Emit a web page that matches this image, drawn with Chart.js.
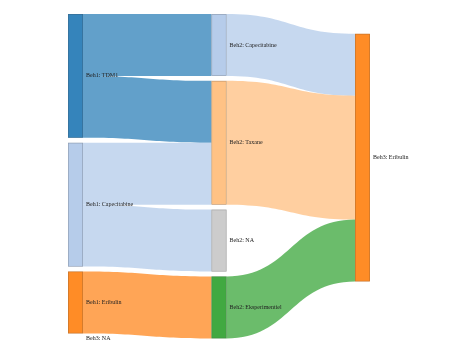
<!DOCTYPE html>
<html>
<head>
<meta charset="utf-8">
<script src="https://cdn.jsdelivr.net/npm/chart.js@4/dist/chart.umd.min.js"></script>
<style>
html,body{margin:0;padding:0;background:#fff;}
#wrap{width:474px;height:357px;}
</style>
</head>
<body>
<div id="wrap"><canvas id="c" width="474" height="357"></canvas></div>
<script>
// ---- data ----
const nodeLabels = ['Beh1: TDM1','Beh1: Capecitabine','Beh1: Eribulin','Beh3: NA',
                    'Beh2: Capecitabine','Beh2: Taxane','Beh2: NA','Beh2: Eksperimentiel',
                    'Beh3: Eribulin'];
const nodeColumns = [0,0,0,0,1,1,1,1,2];
const nodeColors = ['#1f77b4','#aec7e8','#ff7f0e','#1f77b4',
                    '#aec7e8','#ffbb78','#c7c7c7','#2ca02c',
                    '#ff7f0e'];
const linkSources = [0,0,1,1,2,4,5,7];
const linkTargets = [4,5,5,6,7,8,8,8];
const linkValues  = [1,1,1,1,1,1,2,1];

// ---- layout constants (in value units) ----
const nodeGap = 0.08;
const columnOffsets = [0,0,0.32];
const nodeWidthPx = 15;

function hexA(hex,a){
  const n=parseInt(hex.slice(1),16);
  return 'rgba('+((n>>16)&255)+','+((n>>8)&255)+','+(n&255)+','+a+')';
}

function layout(){
  const n=nodeLabels.length;
  const inV=new Array(n).fill(0), outV=new Array(n).fill(0);
  linkValues.forEach((v,i)=>{outV[linkSources[i]]+=v;inV[linkTargets[i]]+=v;});
  const val=inV.map((v,i)=>Math.max(v,outV[i]));
  const y0=new Array(n), y1=new Array(n);
  const cursor=columnOffsets.slice();
  for(let i=0;i<n;i++){
    const c=nodeColumns[i];
    y0[i]=cursor[c]; y1[i]=cursor[c]+val[i]; cursor[c]=y1[i]+nodeGap;
  }
  // link positions
  const outCur=y0.slice(), inCur=y0.slice();
  const order=linkValues.map((v,i)=>i);
  const links=[];
  // sources: order by target position
  const sOrder=order.slice().sort((a,b)=>linkSources[a]-linkSources[b]||y0[linkTargets[a]]-y0[linkTargets[b]]);
  const sPos={};
  sOrder.forEach(i=>{sPos[i]=outCur[linkSources[i]]; outCur[linkSources[i]]+=linkValues[i];});
  const tOrder=order.slice().sort((a,b)=>linkTargets[a]-linkTargets[b]||y0[linkSources[a]]-y0[linkSources[b]]);
  const tPos={};
  tOrder.forEach(i=>{tPos[i]=inCur[linkTargets[i]]; inCur[linkTargets[i]]+=linkValues[i];});
  order.forEach(i=>links.push({s:linkSources[i],t:linkTargets[i],v:linkValues[i],sy:sPos[i],ty:tPos[i]}));
  return {y0,y1,links};
}

const sankeyPlugin={
  id:'sankeyDraw',
  afterDatasetsDraw(chart){
    const ctx=chart.ctx, xs=chart.scales.x, ys=chart.scales.y;
    const L=layout();
    ctx.save();
    // links
    L.links.forEach(l=>{
      const x0=xs.getPixelForValue(nodeColumns[l.s])+nodeWidthPx;
      const x1=xs.getPixelForValue(nodeColumns[l.t]);
      const xm=(x0+x1)/2;
      const a0=ys.getPixelForValue(l.sy), a1=ys.getPixelForValue(l.sy+l.v);
      const b0=ys.getPixelForValue(l.ty), b1=ys.getPixelForValue(l.ty+l.v);
      ctx.beginPath();
      ctx.moveTo(x0,a0);
      ctx.bezierCurveTo(xm,a0,xm,b0,x1,b0);
      ctx.lineTo(x1,b1);
      ctx.bezierCurveTo(xm,b1,xm,a1,x0,a1);
      ctx.closePath();
      ctx.fillStyle=hexA(nodeColors[l.s],0.7);
      ctx.fill();
    });
    // nodes
    nodeLabels.forEach((lab,i)=>{
      const x=xs.getPixelForValue(nodeColumns[i]);
      const t=ys.getPixelForValue(L.y0[i]), b=ys.getPixelForValue(L.y1[i]);
      if(b-t>0.5){
        ctx.fillStyle=hexA(nodeColors[i],0.9);
        ctx.fillRect(x,t,nodeWidthPx,b-t);
        ctx.strokeStyle='rgba(60,60,60,0.35)';
        ctx.lineWidth=0.6;
        ctx.strokeRect(x+0.3,t+0.3,nodeWidthPx-0.6,b-t-0.6);
      }
    });
    // labels
    ctx.font='6px "Liberation Serif", serif';
    ctx.fillStyle='#222';
    ctx.textBaseline='middle';
    ctx.textAlign='left';
    nodeLabels.forEach((lab,i)=>{
      const x=xs.getPixelForValue(nodeColumns[i])+nodeWidthPx+3;
      const t=ys.getPixelForValue(L.y0[i]), b=ys.getPixelForValue(L.y1[i]);
      ctx.fillText(lab,x,(t+b)/2);
    });
    ctx.restore();
  }
};

new Chart(document.getElementById('c'),{
  type:'scatter',
  data:{datasets:[{data:[],pointRadius:0}]},
  options:{
    responsive:false,
    animation:false,
    events:[],
    layout:{padding:{left:68,right:119,top:14,bottom:18}},
    plugins:{legend:{display:false},tooltip:{enabled:false}},
    scales:{
      x:{type:'linear',min:0,max:2,display:false},
      y:{type:'linear',min:0,max:5.25,reverse:true,display:false}
    }
  },
  plugins:[sankeyPlugin]
});
</script>
</body>
</html>
